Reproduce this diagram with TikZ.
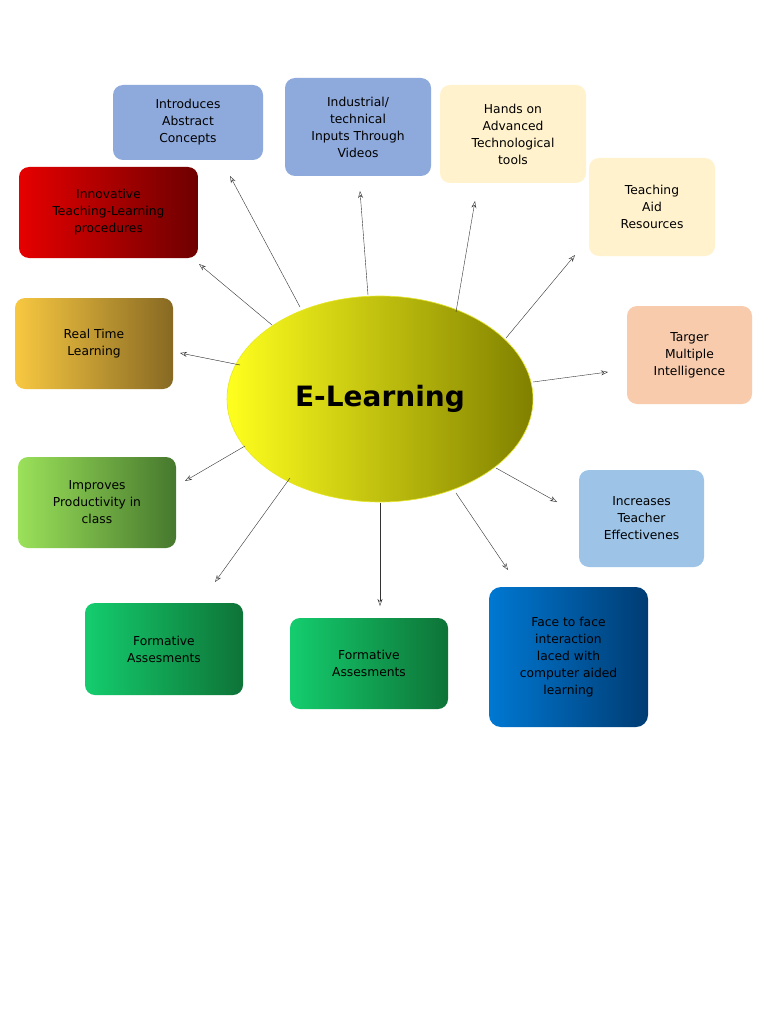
\documentclass[tikz,border=0pt]{standalone}
\usepackage{fontspec}
\setmainfont{DejaVu Sans}
\usetikzlibrary{arrows.meta}
\definecolor{bluebox}{HTML}{8EA9DB}
\definecolor{cream}{HTML}{FFF2CC}
\definecolor{peach}{HTML}{F8CBAD}
\definecolor{lblue}{HTML}{9DC3E6}
\begin{document}
\begin{tikzpicture}[x=1pt,y=-1pt,
  box/.style={rounded corners=10pt,align=center,font=\fontsize{12.3}{17}\selectfont,inner sep=0pt},
  arr/.style={-{Stealth[open,length=7pt,width=5pt]},line width=0.4pt,black!80}]
\useasboundingbox[fill=white] (0,0) rectangle (768,1024);
\newcommand\bx[7]{% name x1 y1 x2 y2 style text
  \path[#6] (#2,#3) rectangle (#4,#5);
  \node[box] (#1) at ({(#2+#4)/2},{(#3+#5)/2}) {#7};}
\bx{b1}{113}{85}{263}{160}{fill=bluebox,rounded corners=10pt}{Introduces\\Abstract\\Concepts}
\bx{b2}{285}{78}{431}{176}{fill=bluebox,rounded corners=10pt}{Industrial/\\technical\\Inputs Through\\Videos}
\bx{b3}{440}{85}{586}{183}{fill=cream,rounded corners=10pt}{Hands on\\Advanced\\Technological\\tools}
\bx{b4}{589}{158}{715}{256}{fill=cream,rounded corners=10pt}{Teaching\\Aid\\Resources}
\bx{b5}{627}{306}{752}{404}{fill=peach,rounded corners=10pt}{Targer\\Multiple\\Intelligence}
\bx{b6}{579}{470}{704}{567}{fill=lblue,rounded corners=10pt}{Increases\\Teacher\\Effectivenes}
\bx{b7}{489}{587}{648}{727}{left color={rgb,255:red,0;green,120;blue,210},right color={rgb,255:red,0;green,60;blue,115},rounded corners=12pt}{Face to face\\interaction\\laced with\\computer aided\\learning}
\bx{b8}{290}{618}{448}{709}{left color={rgb,255:red,20;green,205;blue,110},right color={rgb,255:red,14;green,115;blue,55},rounded corners=10pt}{Formative\\Assesments}
\bx{b9}{85}{603}{243}{695}{left color={rgb,255:red,20;green,205;blue,110},right color={rgb,255:red,14;green,115;blue,55},rounded corners=10pt}{Formative\\Assesments}
\bx{b10}{18}{457}{176}{548}{left color={rgb,255:red,155;green,225;blue,90},right color={rgb,255:red,70;green,120;blue,45},rounded corners=10pt}{Improves\\Productivity in\\class}
\bx{b11}{15}{298}{173}{389}{left color={rgb,255:red,248;green,200;blue,65},right color={rgb,255:red,135;green,105;blue,35},rounded corners=10pt}{Real Time\\Learning}
\bx{b12}{19}{167}{198}{258}{left color={rgb,255:red,230;green,0;blue,0},right color={rgb,255:red,110;green,0;blue,0},rounded corners=10pt}{Innovative\\Teaching-Learning\\procedures}
\path[left color={rgb,255:red,255;green,255;blue,30},right color={rgb,255:red,128;green,128;blue,0},draw={rgb,255:red,230;green,230;blue,40},line width=0.6pt] (380,399) ellipse [x radius=153,y radius=103];
\node[font=\fontsize{28}{32}\selectfont\bfseries] (el) at (380,399) {E-Learning};
\foreach \n/\a/\b/\c/\d in {s1/300/307/230/176, s2/368/295/360/191, s3/456/312/475/201, s4/506/338/575/255, s5/533/382/608/372, s6/496/468/557/502, s7/456/493/508/570, s8/380/503/380/606, s9/290/478/215/582, s10/245/446/185/481, s11/240/365/180/353, s12/272/325/199/264}{
  \coordinate (\n a) at (\a,\b); \coordinate (\n b) at (\c,\d);
  \draw[arr] (\n a) -- (\n b);}
\end{tikzpicture}
\end{document}
